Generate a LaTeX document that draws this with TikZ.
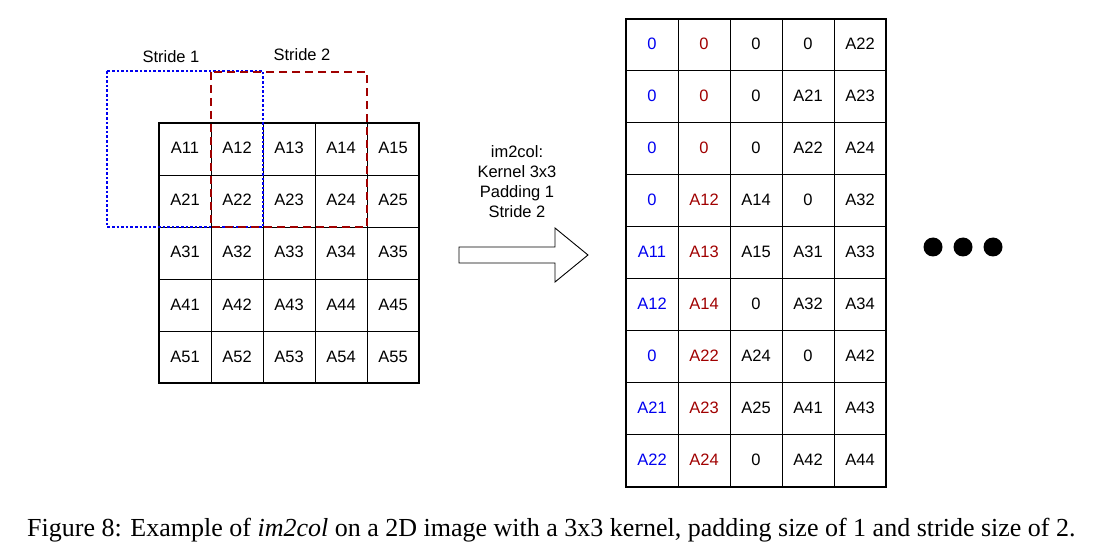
\documentclass[tikz,border=0pt]{standalone}
\usepackage{fontspec}
\setmainfont{Liberation Sans}
\newfontfamily\capfont{Liberation Serif}
\usetikzlibrary{calc}
\definecolor{myblue}{RGB}{0,0,240}
\definecolor{myred}{RGB}{160,0,0}
\begin{document}
\begin{tikzpicture}[x=1pt,y=-1pt,
  cell/.style={draw,line width=0.8pt,minimum width=52pt,minimum height=52pt,inner sep=0pt,text height=11pt,text depth=1pt,font=\fontsize{16.5}{18}\selectfont},
  rcell/.style={cell,minimum height=51.9pt},
  lbl/.style={font=\fontsize{16.5}{20}\selectfont}]
\useasboundingbox (0,0) rectangle (1116,553);
% left grid
\foreach \r in {1,...,5}{\foreach \c in {1,...,5}{
  \node[cell] (L\r\c) at ({159+26+52*(\c-1)},{123+26+52*(\r-1)}) {A\r\c};}}
\draw[line width=2pt] (L11.north west) rectangle (L55.south east);
\draw[myblue,line width=2.6pt,dash pattern=on 2.6pt off 2pt] (107,71) rectangle (263,227);
\draw[myred,line width=2.2pt,dash pattern=on 8pt off 5pt] (211,72) rectangle (367,227);
\node[lbl] (s1) at (171,57) {Stride 1};
\node[lbl] (s2) at (302,55) {Stride 2};
% arrow
\draw[line width=0.9pt] (459,247) -- (555,247) -- (555,228) -- (588,255) -- (555,282) -- (555,263) -- (459,263) -- cycle;
\node[lbl,align=center] (txt) at (517,182) {im2col:\\Kernel 3x3\\Padding 1\\Stride 2};
% right grid
\foreach \row [count=\r from 0] in {{0,0,0,0,A22},{0,0,0,A21,A23},{0,0,0,A22,A24},{0,A12,A14,0,A32},{A11,A13,A15,A31,A33},{A12,A14,0,A32,A34},{0,A22,A24,0,A42},{A21,A23,A25,A41,A43},{A22,A24,0,A42,A44}}{
 \foreach \t [count=\c from 0] in \row {
  \ifnum\c=0 \def\col{myblue}\else\ifnum\c=1 \def\col{myred}\else\def\col{black}\fi\fi
  \node[rcell,text=\col] (R\r\c) at ({626+26+52*\c},{19+25.95+51.9*\r}) {\t};}}
\draw[line width=2pt] (R00.north west) rectangle (R84.south east);
\fill (933,247) circle (9.5) (963,247) circle (9.5) (993,247) circle (9.5);
\node[font=\capfont\fontsize{26}{28}\selectfont,anchor=west,inner sep=0pt] (cap) at (27,530) {Figure 8: Example of \textit{im2col} on a 2D image with a 3x3 kernel, padding size of 1 and stride size of 2.};
\end{tikzpicture}
\end{document}
